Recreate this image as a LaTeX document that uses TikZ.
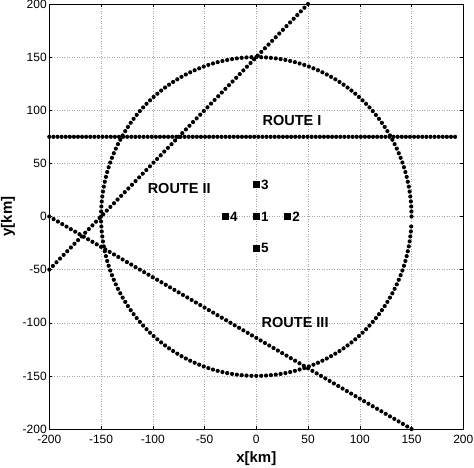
\documentclass[tikz,border=0pt]{standalone}
\usepackage{fontspec}
\setmainfont{Liberation Sans}
\begin{document}
\begin{tikzpicture}[x=1pt,y=1pt,
  gridline/.style={gray!70,dotted,line width=0.5pt},
  dotm/.style={fill=black},
  sq/.style={fill=black,minimum size=7pt,inner sep=0pt,draw=none},
  lbl/.style={font=\bfseries\fontsize{13.5}{13.5}\selectfont,inner sep=1pt},
  route/.style={font=\bfseries\fontsize{14.5}{14.5}\selectfont},
  tick/.style={font=\fontsize{12}{12}\selectfont}]
\useasboundingbox (0,0) rectangle (474,467);
\begin{scope}[shift={(256.3pt,250.5pt)},x=1.035pt,y=1.0625pt]
  % grid
  \foreach \v in {-150,-100,...,150} {
    \draw[gridline] (\v,-200) -- (\v,200);
    \draw[gridline] (-200,\v) -- (200,\v);
  }
  % ticks
  \foreach \v in {-200,-150,...,200} {
    \draw[line width=0.5pt] (\v,-200) -- ++(0,3pt);
    \draw[line width=0.5pt] (\v,200) -- ++(0,-3pt);
    \draw[line width=0.5pt] (-200,\v) -- ++(3pt,0);
    \draw[line width=0.5pt] (200,\v) -- ++(-3pt,0);
    \node[tick,anchor=north] at (\v,-200) [yshift=-3pt] {\v};
    \node[tick,anchor=east] at (-200,\v) [xshift=1pt] {\v};
  }
  \draw[line width=0.6pt] (-200,-200) rectangle (200,200);
  % route I
  \foreach \i in {0,...,99} {
    \fill[dotm] ({-200+3.96*\i},75) circle (2.1pt);
  }
  % circle
  \foreach \a in {0,1.8,...,358.2} {
    \fill[dotm] ({150*cos(\a)},{150*sin(\a)}) circle (2.1pt);
  }
  % route II
  \foreach \i in {0,...,72} {
    \fill[dotm] ({-200+3.4722*\i},{-50+3.4722*\i}) circle (2.1pt);
  }
  % route III
  \foreach \i in {0,...,84} {
    \fill[dotm] ({-200+4.16667*\i},{-2.38095*\i}) circle (2.1pt);
  }
  % stations
  \node[sq] (p1) at (0,0) {};
  \node[sq] (p2) at (30,0) {};
  \node[sq] (p3) at (0,30) {};
  \node[sq] (p4) at (-30,0) {};
  \node[sq] (p5) at (0,-30) {};
  \node[lbl,anchor=west] (l1) at (p1.east) {1};
  \node[lbl,anchor=west] (l2) at (p2.east) {2};
  \node[lbl,anchor=west] (l3) at (p3.east) {3};
  \node[lbl,anchor=west] (l4) at (p4.east) {4};
  \node[lbl,anchor=west] (l5) at (p5.east) {5};
  % route labels
  \node[route] (r1) at (34.5,90) {ROUTE I};
  \node[route] (r2) at (-74.5,26) {ROUTE II};
  \node[route] (r3) at (37.5,-100) {ROUTE III};
  % axis labels
  \node[font=\bfseries\fontsize{15}{15}\selectfont] (xl) at (0,-228) {x[km]};
  \node[font=\bfseries\fontsize{15}{15}\selectfont,rotate=90] (yl) at (-240,0) {y[km]};
\end{scope}
\end{tikzpicture}
\end{document}
